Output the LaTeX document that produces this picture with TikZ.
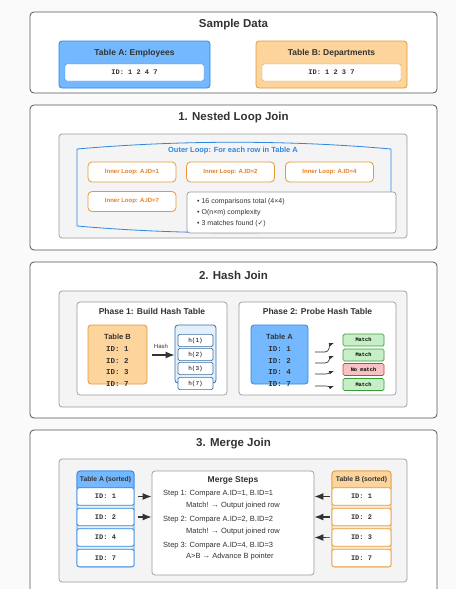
\documentclass[tikz,border=0pt]{standalone}
\usepackage{fontspec}
\setmainfont{Liberation Sans}
\setmonofont{Liberation Mono}
\newfontfamily\symfont{DejaVu Sans}
\usetikzlibrary{arrows.meta}

\definecolor{pagebg}{HTML}{FAFAFA}
\definecolor{frameline}{HTML}{555555}
\definecolor{panelbg}{HTML}{F4F4F4}
\definecolor{panelline}{HTML}{9A9A9A}
\definecolor{titletext}{HTML}{333333}
\definecolor{blueFill}{HTML}{74B9FF}
\definecolor{blueLine}{HTML}{2E86DE}
\definecolor{blueLight}{HTML}{E3F0FB}
\definecolor{hashLine}{HTML}{3A6EA5}
\definecolor{orangeFill}{HTML}{FDD49B}
\definecolor{orangeLine}{HTML}{E39B3A}
\definecolor{orangeText}{HTML}{E67E22}
\definecolor{greenFill}{HTML}{C6EFC6}
\definecolor{greenLine}{HTML}{3C9A3C}
\definecolor{redFill}{HTML}{F8C2C2}
\definecolor{redLine}{HTML}{D04040}
\definecolor{arrowDark}{HTML}{333333}

\tikzset{
  frame/.style={draw=frameline, fill=white, rounded corners=4pt, line width=0.8pt},
  panel/.style={draw=panelline, fill=panelbg, rounded corners=3pt, line width=0.7pt},
  whitebox/.style={draw=panelline, fill=white, rounded corners=3pt, line width=0.7pt},
  secTitle/.style={font=\bfseries\fontsize{11.5}{13}\selectfont, text=titletext},
  subTitle/.style={font=\bfseries\fontsize{8.5}{10}\selectfont, text=titletext},
  idtext/.style={font=\ttfamily\bfseries\fontsize{7}{8}\selectfont, text=titletext},
  bluebox/.style={draw=blueLine, fill=blueFill, rounded corners=3pt, line width=0.8pt},
  orangebox/.style={draw=orangeLine, fill=orangeFill, rounded corners=3pt, line width=0.8pt},
  innerbox/.style={draw=orangeLine, fill=white, rounded corners=4pt, line width=0.8pt,
    minimum width=88pt, minimum height=20pt, text=orangeText,
    font=\bfseries\fontsize{6}{7}\selectfont},
  hashbox/.style={draw=hashLine, fill=white, rounded corners=1.5pt, line width=0.7pt,
    minimum width=35pt, minimum height=11pt, font=\ttfamily\fontsize{6}{7}\selectfont},
  match/.style={draw=greenLine, fill=greenFill, rounded corners=1.5pt, line width=0.7pt,
    minimum width=41pt, minimum height=12pt, font=\ttfamily\bfseries\fontsize{5.3}{6}\selectfont},
  nomatch/.style={match, draw=redLine, fill=redFill},
  rowA/.style={draw=blueLine, fill=white, rounded corners=1.5pt, line width=0.8pt,
    minimum width=57pt, minimum height=17.5pt, idtext},
  rowB/.style={rowA, draw=orangeLine, minimum width=59pt},
  steptext/.style={anchor=west, font=\fontsize{7.5}{8}\selectfont, text=titletext, inner sep=0pt},
  probe/.style={-{Latex[length=5pt,width=3.5pt]}, draw=arrowDark, line width=0.7pt},
  mergearrow/.style={-{Latex[length=9pt,width=7pt]}, draw=arrowDark, line width=1.2pt}
}

\begin{document}
\begin{tikzpicture}[x=1pt, y=-1pt]
    \useasboundingbox[fill=pagebg] (0,0) rectangle (456,589);
    \clip (0,0) rectangle (456,589);

    % Sample data
    \node[frame, minimum width=407pt, minimum height=81pt] (sec0) at (233.5,52.5) {};
    \node[secTitle] (sec0t) at (233.5,25) {Sample Data};
    \node[bluebox, minimum width=151pt, minimum height=47pt] (tabA) at (134.5,64.5) {};
    \node[subTitle] (tabAt) at (134.5,53) {Table A: Employees};
    \node[draw=blueLine, fill=white, rounded corners=1.5pt, minimum width=139pt, minimum height=17pt, idtext] (tabAid) at (134.5,72.5) {ID:~1~2~4~7};
    \node[orangebox, minimum width=151pt, minimum height=47pt] (tabB) at (331.5,64.5) {};
    \node[subTitle] (tabBt) at (331.5,53) {Table B: Departments};
    \node[draw=orangeLine, fill=white, rounded corners=1.5pt, minimum width=139pt, minimum height=17pt, idtext] (tabBid) at (331.5,72.5) {ID:~1~2~3~7};

    % 1. Nested loop join
    \node[frame, minimum width=407pt, minimum height=145pt] (sec1) at (233.5,177.5) {};
    \node[secTitle] (sec1t) at (233.5,118) {1. Nested Loop Join};
    \node[panel, minimum width=348pt, minimum height=104pt] (nlPanel) at (233,186) {};
    % outer loop, top and bottom bowed
    \draw[draw=blueLine, fill=panelbg, line width=0.8pt]
        (77,149) .. controls (180,140) and (290,140) .. (391,149)
        -- (391,226) .. controls (290,235) and (180,235) .. (77,226) -- cycle;
    \node[font=\bfseries\fontsize{7.5}{8}\selectfont, text=blueLine] (outerT) at (233,151) {Outer Loop: For each row in Table A};
    \foreach \id/\cx/\cy in {1/132/172, 2/230.5/172, 4/329.5/172, 7/132/201.5}
        \node[innerbox] (in\id) at (\cx,\cy) {Inner Loop: A.ID=\id};
    \node[whitebox, minimum width=209pt, minimum height=41pt] (stats) at (291.5,212.5) {};
    \node[steptext, font=\fontsize{7}{8}\selectfont] (st1) at (197,202) {• 16 comparisons total (4×4)};
    \node[steptext, font=\fontsize{7}{8}\selectfont] (st2) at (197,213) {• O(n×m) complexity};
    \node[steptext, font=\fontsize{7}{8}\selectfont] (st3) at (197,224) {• 3 matches found ({\symfont ✓})};

    % 2. Hash join
    \node[frame, minimum width=407pt, minimum height=156pt] (sec2) at (233.5,340) {};
    \node[secTitle] (sec2t) at (233.5,275) {2. Hash Join};
    \node[panel, minimum width=348pt, minimum height=116pt] (hjPanel) at (233,349) {};
    \node[whitebox, minimum width=150pt, minimum height=93pt] (ph1) at (152,348.5) {};
    \node[subTitle] (ph1t) at (152,311) {Phase 1: Build Hash Table};
    \node[whitebox, minimum width=157pt, minimum height=93pt] (ph2) at (317.5,348.5) {};
    \node[subTitle] (ph2t) at (317.5,311) {Phase 2: Probe Hash Table};

    % build side
    \node[orangebox, minimum width=59pt, minimum height=59pt] (hTabB) at (117.5,354.5) {};
    \node[subTitle, font=\bfseries\fontsize{7.5}{8}\selectfont] (hTabBt) at (117.5,337) {Table B};
    \foreach \n/\y in {1/349, 2/360.5, 3/372, 7/384}
        \node[idtext, font=\ttfamily\bfseries\fontsize{7.5}{8}\selectfont] (hb\n) at (117.5,\y) {ID:~\n};
    \node[draw=hashLine, fill=blueLight, rounded corners=3pt, line width=0.8pt, minimum width=41pt, minimum height=58pt] (htab) at (195.5,354) {};
    \foreach \k/\cy in {1/340.5, 2/354.5, 3/368.5, 7/383.5}
        \node[hashbox] (h\k) at (195.5,\cy) {h(\k)};
    \node[font=\fontsize{6}{7}\selectfont, text=titletext] (hashT) at (161,346) {Hash};
    \draw[-{Latex[length=9pt,width=7pt]}, draw=arrowDark, line width=1.3pt] (hTabB.east |- 0,355) ++(5,0) -- (htab.west |- 0,355);

    % probe side
    \node[bluebox, minimum width=57pt, minimum height=59pt] (hTabA) at (279.5,354.5) {};
    \node[subTitle, font=\bfseries\fontsize{7.5}{8}\selectfont] (hTabAt) at (279.5,337) {Table A};
    \foreach \n/\y in {1/349, 2/360.5, 4/372, 7/384}
        \node[idtext, font=\ttfamily\bfseries\fontsize{7.5}{8}\selectfont] (ha\n) at (279.5,\y) {ID:~\n};
    \node[match] (m1) at (363.5,340) {Match};
    \node[match] (m2) at (363.5,355) {Match};
    \node[nomatch] (m3) at (363.5,369.5) {No match};
    \node[match] (m4) at (363.5,384.5) {Match};
    \foreach \i/\ys/\ye in {1/352/343, 2/363/356, 3/374/371, 4/386/386} {
        \coordinate (p\i s) at (315,\ys);
        \coordinate (p\i e) at (334,\ye);
        \draw[probe] (p\i s) -- ++(10,0) to[out=0,in=200] (p\i e);
    }

    % 3. Merge join
    \node[frame, minimum width=407pt, minimum height=180pt] (sec3) at (233.5,520) {};
    \node[secTitle] (sec3t) at (233.5,444) {3. Merge Join};
    \node[panel, minimum width=348pt, minimum height=123pt] (mjPanel) at (233,520.5) {};

    % sorted tables
    \node[draw=blueLine, fill=blueLight, rounded corners=3pt, line width=0.8pt, minimum width=57pt, minimum height=96pt] (sA) at (105.5,519) {};
    \draw[fill=blueFill, draw=blueLine, line width=0.8pt, rounded corners=3pt] (77,488) -- (77,471) -- (134,471) -- (134,488);
    \node[font=\bfseries\fontsize{6.8}{7}\selectfont, text=titletext, inner sep=0pt] (sAt) at (105.5,480) {Table A (sorted)};
    \draw[draw=orangeLine, fill=orangeFill!45, rounded corners=3pt, line width=0.8pt] (332,471) rectangle (391,567);
    \draw[fill=orangeFill, draw=orangeLine, line width=0.8pt, rounded corners=3pt] (332,488) -- (332,471) -- (391,471) -- (391,488);
    \node[font=\bfseries\fontsize{6.8}{7}\selectfont, text=titletext, inner sep=0pt] (sBt) at (361.5,480) {Table B (sorted)};
    \foreach \n/\y [count=\r] in {1/496.5, 2/517, 4/537.5, 7/558}
        \node[rowA] (ra\r) at (105.5,\y) {ID:~\n};
    \foreach \n/\y [count=\r] in {1/496.5, 2/517, 3/537.5, 7/558}
        \node[rowB] (rb\r) at (361.5,\y) {ID:~\n};

    % merge steps
    \node[whitebox, minimum width=162pt, minimum height=104pt] (ms) at (233,523) {};
    \node[subTitle] (msT) at (233,480) {Merge Steps};
    \node[steptext] (s1a) at (163,494) {Step 1: Compare A.ID=1, B.ID=1};
    \node[steptext] (s1b) at (186,506) {Match! → Output joined row};
    \node[steptext] (s2a) at (163,520) {Step 2: Compare A.ID=2, B.ID=2};
    \node[steptext] (s2b) at (186,532) {Match! → Output joined row};
    \node[steptext] (s3a) at (163,546) {Step 3: Compare A.ID=4, B.ID=3};
    \node[steptext] (s3b) at (186,557) {A>B → Advance B pointer};

    % pointers
    \draw[mergearrow] ([xshift=4pt]ra1.east) -- (ra1 -| ms.west);
    \draw[mergearrow] ([xshift=4pt]ra2.east) -- (ra2 -| ms.west);
    \draw[mergearrow] ([xshift=-2pt]rb1.west) -- (rb1 -| ms.east);
    \draw[mergearrow] ([xshift=-2pt]rb2.west) -- (rb2 -| ms.east);
    \draw[mergearrow] ([xshift=-2pt]rb3.west) -- (rb3 -| ms.east);
    \draw[draw=redLine, line width=1.2pt] ([xshift=-2pt]rb3.west) -- ++(-4,0);
\end{tikzpicture}
\end{document}
